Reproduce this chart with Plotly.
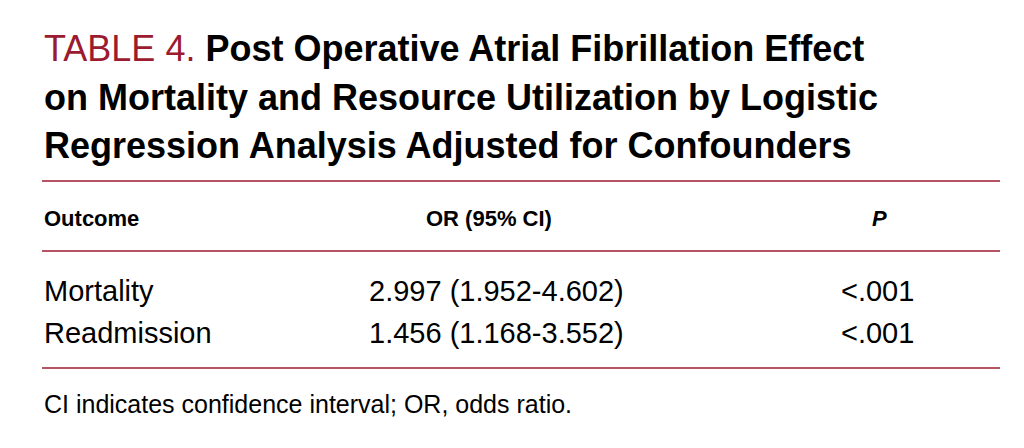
import plotly.graph_objects as go

title_label = "TABLE 4."
title_lines = ["Post Operative Atrial Fibrillation Effect",
               "on Mortality and Resource Utilization by Logistic",
               "Regression Analysis Adjusted for Confounders"]
headers = ["Outcome", "OR (95% CI)", "<i>P</i>"]
outcomes = ["Mortality", "Readmission"]
odds_ratios = ["2.997 (1.952-4.602)", "1.456 (1.168-3.552)"]
p_values = ["<.001", "<.001"]
footnote = "CI indicates confidence interval; OR, odds ratio."

RED = "#9b1b30"
FONT = "Liberation Sans, Arial, sans-serif"

fig = go.Figure()
ann = []
DX, DY = -9, -8

def text(x, y, s, size, anchor="left", color="black"):
    ann.append(dict(x=x + DX, y=y + DY, text=s, showarrow=False, xanchor=anchor, yanchor="middle",
                    font=dict(size=size, color=color, family=FONT)))

text(43, 48, f"<span style='color:{RED}'>{title_label}</span> <b>{title_lines[0]}</b>", 36)
text(43, 97, f"<b>{title_lines[1]}</b>", 36)
text(43, 145, f"<b>{title_lines[2]}</b>", 36)

text(43, 218, f"<b>{headers[0]}</b>", 22)
text(490, 218, f"<b>{headers[1]}</b>", 22, anchor="center")
text(880, 218, f"<b>{headers[2]}</b>", 22, anchor="center")

for i, (o, r, p) in enumerate(zip(outcomes, odds_ratios, p_values)):
    y = 291 + i * 42
    text(43, y, o, 29)
    text(497, y, r, 29, anchor="center")
    text(878, y, p.replace("<", "&lt;"), 29, anchor="center")

text(43, 404, footnote, 25)

for y in [181, 251, 368]:
    fig.add_shape(type="line", x0=43 + DX, x1=1001 + DX, y0=y + DY, y1=y + DY,
                  line=dict(color=RED, width=1.5))

fig.update_layout(width=1024, height=448, margin=dict(l=0, r=0, t=0, b=0),
                  plot_bgcolor="white", paper_bgcolor="white", annotations=ann,
                  xaxis=dict(range=[0, 1024], visible=False),
                  yaxis=dict(range=[448, 0], visible=False))
fig.write_html("out.html")
